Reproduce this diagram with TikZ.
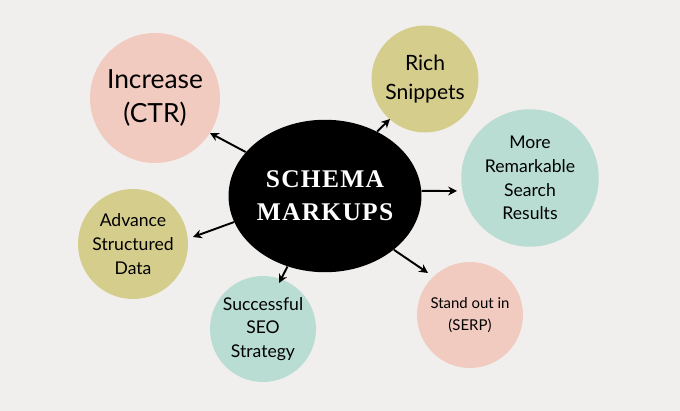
\documentclass[tikz,border=0pt]{standalone}
\usepackage{fontspec}
\setmainfont{Lato}
\newfontfamily\titlefont[LetterSpace=5]{Liberation Serif}
\usetikzlibrary{shapes.geometric,arrows.meta}
\definecolor{bgcol}{HTML}{F0EFED}
\definecolor{pinkcol}{HTML}{F2CBC0}
\definecolor{olivecol}{HTML}{D5CD8C}
\definecolor{tealcol}{HTML}{B9DDD3}
\tikzset{
  bubble/.style={circle, inner sep=0pt, align=center, font=\fontsize{10}{13.5}\selectfont},
  link/.style={-{Stealth[length=5pt,width=5pt]}, line width=1.1pt}
}
\begin{document}
\begin{tikzpicture}[x=0.02cm,y=-0.02cm]
  % background
  \fill[bgcol] (0,0) rectangle (680,411);
  % centre
  \node[ellipse, fill=black, inner sep=0pt, minimum width=3.7cm, minimum height=3.05cm,
        align=center, text=white, font=\titlefont\bfseries\fontsize{14.5}{19}\selectfont] (schema) at (325,196) {SCHEMA\\MARKUPS};
  % bubbles
  \node[bubble, fill=pinkcol, minimum size=2.6cm, font=\fontsize{15}{19}\selectfont] (ctr) at (155,98) {Increase\\(CTR)};
  \node[bubble, fill=olivecol, minimum size=2.14cm, font=\fontsize{12}{16}\selectfont] (rich) at (425,79) {Rich\\Snippets};
  \node[bubble, fill=tealcol, minimum size=2.75cm] (serp) at (530,178) {More\\Remarkable\\Search\\Results};
  \node[bubble, fill=olivecol, minimum size=2.2cm] (data) at (133,244) {Advance\\Structured\\Data};
  \node[bubble, fill=tealcol, minimum size=2.12cm] (seo) at (263,329) {Successful\\SEO\\Strategy};
  \node[bubble, fill=pinkcol, minimum size=2.12cm, font=\fontsize{8.5}{12.5}\selectfont] (stand) at (470,315) {Stand out in\\(SERP)};
  % arrow tips
  \coordinate (ctrtip) at (210,133);
  \coordinate (richtip) at (390,119);
  \coordinate (serptip) at (457,191);
  \coordinate (datatip) at (193,237);
  \coordinate (seotip) at (279,283);
  \coordinate (standtip) at (428,273);
  % arrows
  \draw[link] (schema.151) -- (ctrtip);
  \draw[link] (schema.51) -- (richtip);
  \draw[link] (schema.3) -- (serptip);
  \draw[link] (schema.196) -- (datatip);
  \draw[link] (schema.242) -- (seotip);
  \draw[link] (schema.322) -- (standtip);
\end{tikzpicture}
\end{document}
